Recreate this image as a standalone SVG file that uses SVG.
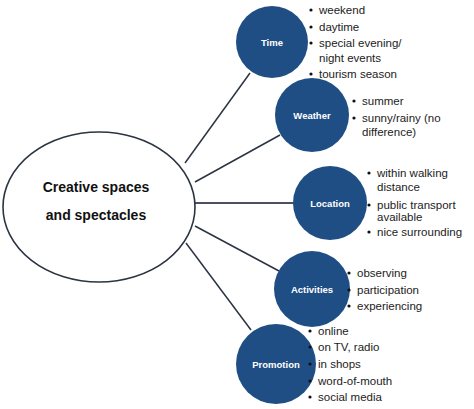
<svg xmlns="http://www.w3.org/2000/svg" width="474" height="409" viewBox="0 0 474 409">
<style>
.conn{stroke:#2b3441;stroke-width:1.5;fill:none}
.main{fill:#fff;stroke:#2b3441;stroke-width:1.6}
.cat{fill:#1f4e84}
.lbl{font-family:"Liberation Sans",Arial,sans-serif;font-weight:bold;font-size:9.5px;fill:#fff;text-anchor:middle}
.title{font-family:"Liberation Sans",Arial,sans-serif;font-weight:bold;font-size:14px;fill:#111;text-anchor:middle}
.it{font-family:"Liberation Sans",Arial,sans-serif;font-size:11.5px;fill:#222}
.b{fill:#111}
</style>
<rect width="474" height="409" fill="#fff"/>
<g id="connectors">
<line class="conn" x1="185" y1="163" x2="250" y2="73"/>
<line class="conn" x1="195" y1="182" x2="280" y2="135"/>
<line class="conn" x1="195" y1="203" x2="294" y2="203" style="stroke:#4a5260;stroke-width:2"/>
<line class="conn" x1="195" y1="226" x2="279" y2="271"/>
<line class="conn" x1="186" y1="243" x2="251" y2="330"/>
</g>
<g id="main">
<ellipse class="main" cx="99" cy="207" rx="96" ry="75"/>
<text class="title" x="96" y="192">Creative spaces</text>
<text class="title" x="96" y="220">and spectacles</text>
</g>
<g id="time">
<circle class="cat" cx="272" cy="42" r="36"/>
<text class="lbl" x="272" y="46">Time</text>
<circle class="b" cx="311" cy="10" r="1.6"/>
<text class="it" x="319" y="14">weekend</text>
<circle class="b" cx="311" cy="27" r="1.6"/>
<text class="it" x="319" y="31">daytime</text>
<circle class="b" cx="311" cy="43" r="1.6"/>
<text class="it" x="319" y="47">special evening/</text>
<text class="it" x="319" y="62">night events</text>
<circle class="b" cx="311" cy="74" r="1.6"/>
<text class="it" x="319" y="78">tourism season</text>
</g>
<g id="weather">
<circle class="cat" cx="312" cy="115" r="37"/>
<text class="lbl" x="312" y="119">Weather</text>
<circle class="b" cx="354" cy="101" r="1.6"/>
<text class="it" x="362" y="105">summer</text>
<circle class="b" cx="354" cy="118" r="1.6"/>
<text class="it" x="362" y="122">sunny/rainy (no</text>
<text class="it" x="362" y="136">difference)</text>
</g>
<g id="location">
<circle class="cat" cx="330" cy="203" r="37"/>
<text class="lbl" x="330" y="207">Location</text>
<circle class="b" cx="369" cy="173" r="1.6"/>
<text class="it" x="377" y="177">within walking</text>
<text class="it" x="377" y="191">distance</text>
<circle class="b" cx="369" cy="205" r="1.6"/>
<text class="it" x="377" y="209">public transport</text>
<text class="it" x="377" y="221">available</text>
<circle class="b" cx="369" cy="232" r="1.6"/>
<text class="it" x="377" y="236">nice surrounding</text>
</g>
<g id="activities">
<circle class="cat" cx="312" cy="289" r="38"/>
<text class="lbl" x="312" y="293">Activities</text>
<circle class="b" cx="349" cy="273" r="1.6"/>
<text class="it" x="357" y="277">observing</text>
<circle class="b" cx="349" cy="290" r="1.6"/>
<text class="it" x="357" y="294">participation</text>
<circle class="b" cx="349" cy="306" r="1.6"/>
<text class="it" x="357" y="310">experiencing</text>
</g>
<g id="promotion">
<circle class="cat" cx="276" cy="364" r="40"/>
<text class="lbl" x="276" y="368">Promotion</text>
<circle class="b" cx="310" cy="331" r="1.6"/>
<text class="it" x="318" y="335">online</text>
<circle class="b" cx="310" cy="347" r="1.6"/>
<text class="it" x="318" y="351">on TV, radio</text>
<circle class="b" cx="310" cy="364" r="1.6"/>
<text class="it" x="318" y="368">in shops</text>
<circle class="b" cx="310" cy="381" r="1.6"/>
<text class="it" x="318" y="385">word-of-mouth</text>
<circle class="b" cx="310" cy="397" r="1.6"/>
<text class="it" x="318" y="401">social media</text>
</g>
</svg>
